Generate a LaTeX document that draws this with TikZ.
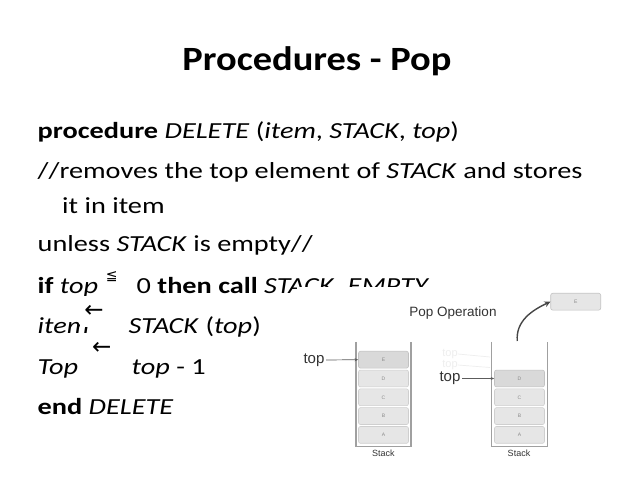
\documentclass[tikz,border=0pt]{standalone}
\usepackage{fontspec}
\setmainfont{Carlito}[FakeStretch=1.23]
\newfontfamily\titlefont{Carlito}[FakeStretch=1.13]
\newfontfamily\diagfont{Liberation Sans}
\newfontfamily\symfont{DejaVu Sans}
\usetikzlibrary{arrows.meta}
\definecolor{wallc}{HTML}{A0A0A0}
\definecolor{cellfill}{HTML}{E6E6E6}
\definecolor{cellline}{HTML}{CFCFCF}
\definecolor{topfill}{HTML}{D9D9D9}
\definecolor{topline}{HTML}{C2C2C2}
\definecolor{lettc}{HTML}{8A8A8A}
\definecolor{diagtext}{HTML}{333333}
\definecolor{ghost}{HTML}{EEEEEE}
\tikzset{
  body/.style={anchor=base west, inner sep=0pt, font=\fontsize{23}{27}\selectfont},
  symbox/.style={fill=white, inner sep=0pt, font=\symfont\fontsize{23}{23}\selectfont},
  cell/.style={draw=cellline, fill=cellfill, rounded corners=2pt, line width=0.6pt,
    minimum width=50pt, minimum height=16.8pt, inner sep=0pt, text=lettc,
    font=\diagfont\fontsize{5}{5}\selectfont},
  topcell/.style={cell, draw=topline, fill=topfill},
  wall/.style={draw=wallc, line width=1.2pt},
  toplabel/.style={inner sep=0pt, text=diagtext, font=\diagfont\fontsize{15}{15}\selectfont},
  ghostlabel/.style={inner sep=0pt, text=ghost, font=\diagfont\fontsize{11}{11}\selectfont},
  stacklabel/.style={inner sep=0pt, text=diagtext, font=\diagfont\fontsize{9}{9}\selectfont},
  ptr/.style={draw=diagtext!80, line width=0.7pt, -{Stealth[length=3.5pt,width=3pt]}},
  ghostptr/.style={draw=ghost, line width=0.7pt},
  poparrow/.style={draw=diagtext!90, line width=1.4pt, -{Stealth[length=6pt,width=6pt]}}
}
\begin{document}
\begin{tikzpicture}[x=1pt,y=-1pt]
\useasboundingbox (0,0) rectangle (638,478);
\fill[white] (0,0) rectangle (638,478);
% title
\node[anchor=base, inner sep=0pt, font=\titlefont\bfseries\fontsize{34}{40}\selectfont] (title) at (317,70.7) {Procedures - Pop};
% body
\node[body] (l1) at (37.5,138.3) {\textbf{procedure} \textit{DELETE} (\textit{item}, \textit{STACK}, \textit{top})};
\node[body] (l2) at (37.5,179) {//removes the top element of \textit{STACK} and stores};
\node[body] (l3) at (62,213.3) {it in item};
\node[body] (l4) at (37.5,252) {unless \textit{STACK} is empty//};
\node[body] (l5a) at (37.5,293.5) {\textbf{if} \textit{top}};
\node[body] (l5b) at (136.5,293.5) {0 \textbf{then call} \textit{STACK\_EMPTY}};
\node[body] (l6a) at (37.5,334) {\textit{item}};
\node[body] (l6b) at (128.5,334) {\textit{STACK} (\textit{top})};
\node[body] (l7a) at (37.5,375) {\textit{Top}};
\node[body] (l7b) at (131.5,375) {\textit{top} - 1};
\node[body] (l8) at (37.5,415) {\textbf{end} \textit{DELETE}};
% symbols (white boxes as in the slide)
\node[symbox, font=\symfont\fontsize{14}{14}\selectfont] (le) at (111.7,277) {≦};
\node[symbox, minimum width=28pt, minimum height=31pt] (ar1) at (94,311.5) {←};
\node[symbox] (ar2) at (101.7,348) {←};
% image background
\fill[white] (297,287) rectangle (638,478);
% Pop Operation diagram
\node[inner sep=0pt, text=diagtext, font=\diagfont\fontsize{13.5}{13.5}\selectfont] (popt) at (453,313.3) {Pop Operation};
% left stack
\draw[wall] (356,342) -- (356,446.5) -- (411,446.5) -- (411,342);
\foreach \n/\l/\i in {a/A/0,b/B/1,c/C/2,d/D/3}
  \node[cell] (L\n) at (383.5,{443.3-8.4-18.8*\i}) {\l};
\node[topcell] (Le) at (383.5,{443.3-8.4-18.8*4}) {E};
\node[stacklabel] (Ls) at (383.3,453.5) {Stack};
\node[toplabel] (Ltop) at (314,360) {top};
\draw[ptr] (Ltop.east) ++(1.5pt,0) -- (Le.west);
% right stack
\draw[wall] (491.7,342) -- (491.7,446.5) -- (547.3,446.5) -- (547.3,342);
\foreach \n/\l/\i in {a/A/0,b/B/1,c/C/2}
  \node[cell] (R\n) at (519.5,{443.3-8.4-18.8*\i}) {\l};
\node[topcell] (Rd) at (519.5,{443.3-8.4-18.8*3}) {D};
\node[stacklabel] (Rs) at (519,453.5) {Stack};
\node[ghostlabel] (g1) at (450,354) {top};
\node[ghostlabel] (g2) at (450,365) {top};
\coordinate (g1e) at (490,357);
\coordinate (g2e) at (490,367.5);
\draw[ghostptr] (g1.east) -- (g1e);
\draw[ghostptr] (g2.east) -- (g2e);
\node[toplabel] (Rtop) at (450,378.5) {top};
\draw[ptr] (Rtop.east) ++(1.5pt,0) -- (Rd.west);
% popped element
\node[topcell, fill=cellfill] (pe) at (575.7,301.7) {E};
\coordinate (pstart) at (517.3,341);
\draw[poparrow] (pstart) to[out=95,in=205] (pe.west);
\end{tikzpicture}
\end{document}
